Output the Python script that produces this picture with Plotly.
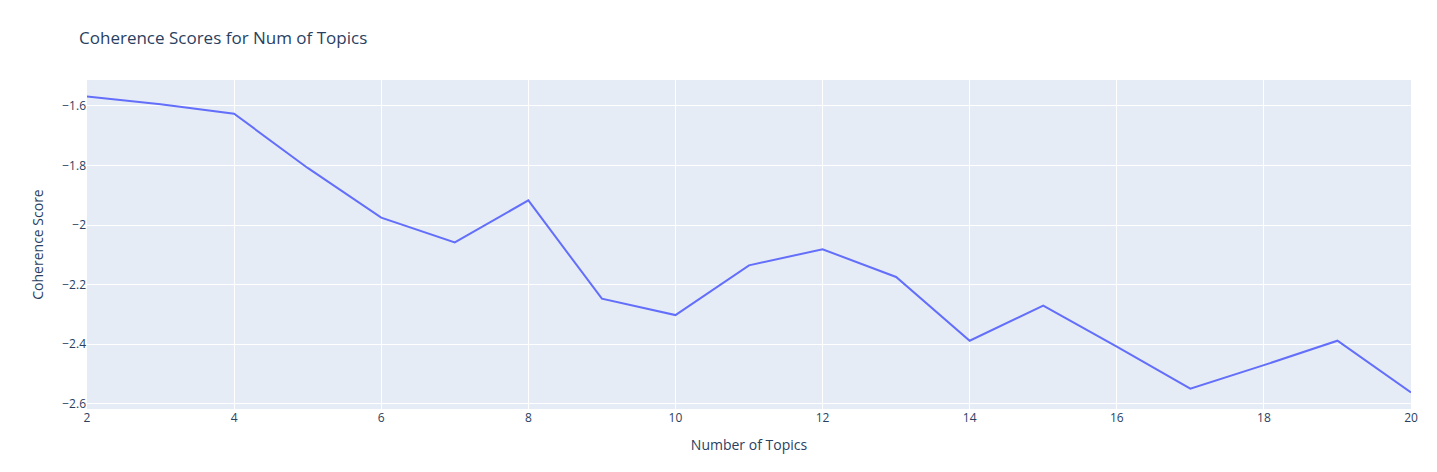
import plotly.graph_objects as go

num_topics = list(range(2, 21))
coherence = [-1.568, -1.594, -1.626, -1.808, -1.975, -2.058, -1.917, -2.247, -2.302,
             -2.135, -2.081, -2.174, -2.388, -2.270, -2.408, -2.549, -2.470, -2.388, -2.562]

fig = go.Figure(go.Scatter(x=num_topics, y=coherence, mode="lines"))
fig.update_layout(
    title="Coherence Scores for Num of Topics",
    xaxis_title="Number of Topics",
    yaxis_title="Coherence Score",
    margin=dict(l=79, r=18, t=72, b=55),
)
fig.write_html("out.html", default_width="100%", default_height="100%")
